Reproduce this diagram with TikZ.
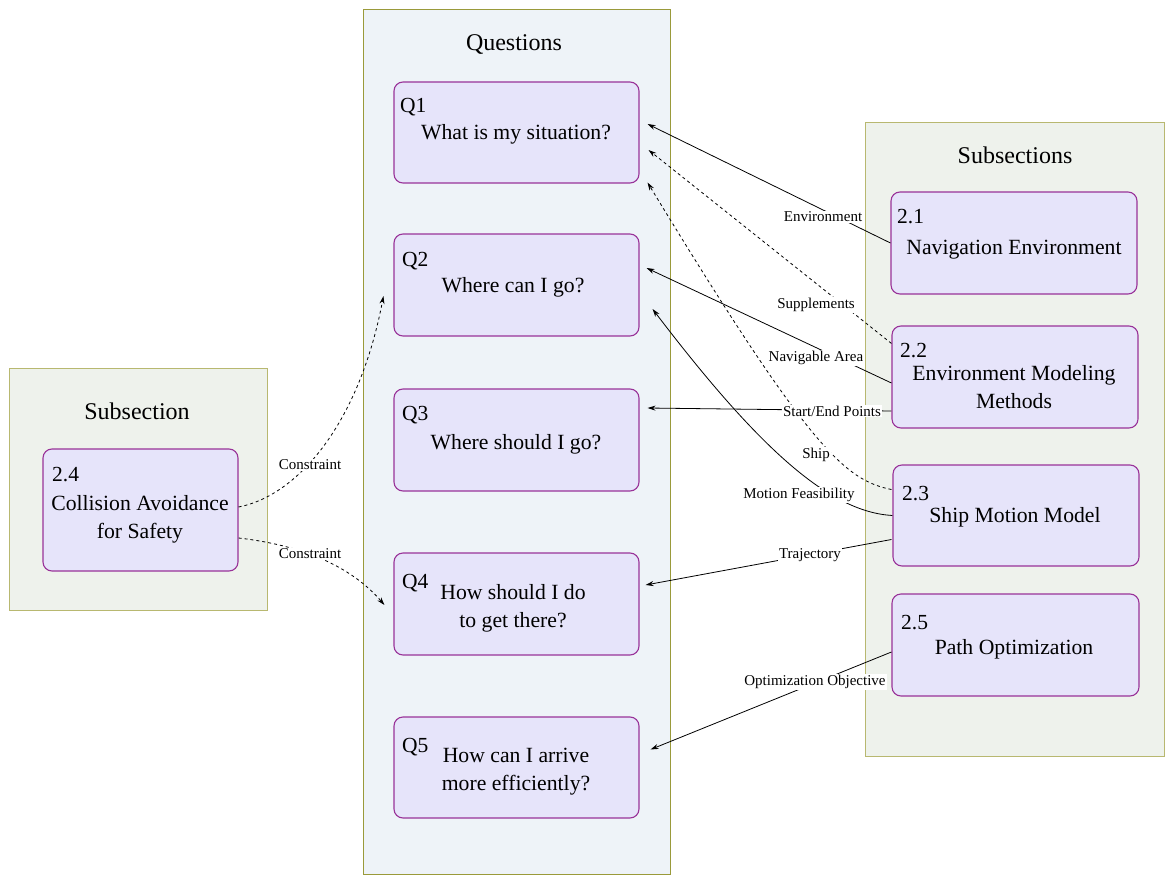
\documentclass[tikz,border=0pt]{standalone}
\usepackage{fontspec}
\setmainfont{Liberation Serif}
\usetikzlibrary{arrows.meta,calc}
\definecolor{qfill}{HTML}{EEF3F8}
\definecolor{sfill}{HTML}{EEF2EC}
\definecolor{olivedge}{HTML}{9A9A3A}
\definecolor{olivelight}{HTML}{B8B870}
\definecolor{boxfill}{HTML}{E6E4FA}
\definecolor{boxedge}{HTML}{993399}
\tikzset{
  qcont/.style={draw=olivedge, fill=qfill, line width=1pt, inner sep=0pt},
  scont/.style={draw=olivelight, fill=sfill, line width=1pt, inner sep=0pt},
  box/.style={draw=boxedge, fill=boxfill, rounded corners=9pt, line width=1.1pt, inner sep=0pt, minimum width=245pt, minimum height=101pt},
  maintext/.style={font=\fontsize{21.7}{28}\selectfont, align=center, inner sep=0pt, yshift=-2pt},
  oneline/.style={maintext, text height=15pt, text depth=5pt},
  numtext/.style={font=\fontsize{21.5}{26}\selectfont, anchor=base west, inner sep=0pt},
  titletext/.style={font=\fontsize{24}{28}\selectfont, inner sep=0pt, text height=17pt, text depth=5pt, yshift=-2pt},
  lbl/.style={font=\fontsize{15}{17}\selectfont, fill=white, inner sep=1pt, yshift=-1pt},
  arr/.style={-{Stealth[length=8pt,width=5pt]}, line width=0.8pt, black},
  dsh/.style={dash pattern=on 3pt off 3pt}
}
\begin{document}
\begin{tikzpicture}[x=1pt,y=-1pt]
\useasboundingbox (0,0) rectangle (1173,883);
% containers
\node[qcont, minimum width=307pt, minimum height=864pt] (qc) at (516.5,442) {};
\node[scont, minimum width=299pt, minimum height=634pt] (sc) at (1014.5,439) {};
\node[scont, minimum width=258pt, minimum height=242pt] (lc) at (138,489) {};
\node[titletext] (qct) at (514,43) {Questions};
\node[titletext] (sct) at (1015,155) {Subsections};
\node[titletext] (lct) at (137,411) {Subsection};
% question boxes
\node[box] (q1) at (516.5,132.5) {};
\node[box, minimum height=102pt] (q2) at (516.5,285) {};
\node[box, minimum height=102pt] (q3) at (516.5,440) {};
\node[box, minimum height=102pt] (q4) at (516.5,604) {};
\node[box] (q5) at (516.5,767.5) {};
\node[numtext] (q1n) at (400,112) {Q1};
\node[numtext] (q2n) at (402,266) {Q2};
\node[numtext] (q3n) at (402,420) {Q3};
\node[numtext] (q4n) at (402,588) {Q4};
\node[numtext] (q5n) at (402,752) {Q5};
\node[oneline] (q1t) at (516,132) {What is my situation?};
\node[oneline] (q2t) at (513,285) {Where can I go?};
\node[oneline] (q3t) at (516,442) {Where should I go?};
\node[maintext] (q4t) at (513,606) {How should I do\\to get there?};
\node[maintext] (q5t) at (516,770) {How can I arrive\\more efficiently?};
% subsection boxes
\node[box, minimum width=246pt, minimum height=102pt] (s21) at (1014,243) {};
\node[box, minimum width=246pt, minimum height=102pt] (s22) at (1015,377) {};
\node[box, minimum width=246pt, minimum height=101pt] (s23) at (1016,515.5) {};
\node[box, minimum width=247pt, minimum height=102pt] (s25) at (1015.5,645) {};
\node[box, minimum width=195pt, minimum height=122pt] (s24) at (140.5,510) {};
\node[numtext] (s21n) at (897,223) {2.1};
\node[numtext] (s22n) at (900,357) {2.2};
\node[numtext] (s23n) at (902,500) {2.3};
\node[numtext] (s25n) at (901,629) {2.5};
\node[numtext] (s24n) at (52,481) {2.4};
\node[oneline] (s21t) at (1014,247) {Navigation Environment};
\node[maintext] (s22t) at (1014,385) {Environment Modeling\\Methods};
\node[oneline] (s23t) at (1015,515) {Ship Motion Model};
\node[oneline] (s25t) at (1014,647) {Path Optimization};
\node[maintext] (s24t) at (140,517) {Collision Avoidance\\for Safety};
% connectors
\draw[arr] (s21.west) -- ($(q1.east)+(8,-8.5)$)
  node[lbl] (l1) at (823,216) {Environment};
\draw[arr, dsh] ($(s22.north west)+(0,18)$) -- ($(q1.east)+(9,17.5)$)
  node[lbl] (l2) at (816,304) {Supplements};
\draw[arr] ($(s22.west)+(0,6)$) -- ($(q2.east)+(7,-17)$)
  node[lbl] (l3) at (816,357) {Navigable Area};
\draw[arr, dsh] ($(s23.west)+(-1,-26)$) .. controls (845,480) and (810,450) .. ($(q1.east)+(8,50)$)
  node[lbl] (l5) at (816,454) {Ship};
\draw[arr] (s23.west) .. controls (830,512) and (760,450) .. ($(q2.east)+(13,24)$)
  node[lbl] (l6) at (799,494) {Motion Feasibility};
\draw[arr] ($(s22.west)+(0,34)$) -- ($(q3.east)+(8,-32)$)
  node[lbl] (l4) at (832,410) {Start/End Points};
\draw[arr] ($(s23.west)+(-1,24)$) -- ($(q4.east)+(6,-19)$)
  node[lbl] (l7) at (810,554) {Trajectory};
\draw[arr] ($(s25.west)+(0,7)$) -- ($(q5.east)+(11,-18)$)
  node[lbl] (l8) at (815,681) {Optimization Objective};
\draw[arr, dsh] ($(s24.east)+(0,-3)$) .. controls (300,495) and (360,420) .. ($(q2.west)+(-10,11)$)
  node[lbl] (l9) at (310,464) {Constraint};
\draw[arr, dsh] ($(s24.east)+(0,28)$) .. controls (300,545) and (350,565) .. ($(q4.west)+(-9,1)$)
  node[lbl] (l10) at (310,553) {Constraint};
\end{tikzpicture}
\end{document}
